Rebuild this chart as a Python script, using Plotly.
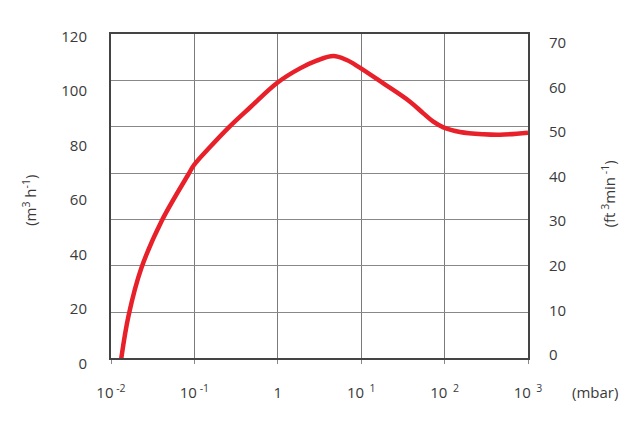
import plotly.graph_objects as go

# Pressure (mbar) and pumping speed (ft^3/min)
pressure_mbar = [0.01328, 0.0163, 0.02308, 0.04009, 0.0838, 0.0989, 0.1539, 0.2551, 0.4642,
                 0.987, 1.846, 2.924, 4.634, 6.696, 9.497,
                 18.43, 38.47, 55.59, 73.26, 96.56, 152.9, 291.4, 461.3, 1000]
speed_cfm = [0.0, 9.35, 19.44, 29.51, 39.6, 41.76, 45.65, 49.8, 54.18,
             59.54, 62.64, 64.3, 65.31, 64.44, 62.86,
             59.4, 55.44, 52.92, 51.12, 49.9, 48.9, 48.4, 48.3, 48.75]

x_tickvals = [0.01, 0.1, 1, 10, 100, 1000]
x_ticktext = ["10<sup>\u00a0-2</sup>", "10<sup>\u00a0-1</sup>", "1",
              "10<sup>\u00a0\u00a01</sup>", "10<sup>\u00a0\u00a02</sup>", "10<sup>\u00a0\u00a03</sup>"]
m3h_ticks = [0, 20, 40, 60, 80, 100, 120]
cfm_ticks = [0, 10, 20, 30, 40, 50, 60, 70]

FONT = "Open Sans"
TXT = "#3a3a3a"

fig = go.Figure()
fig.add_trace(go.Scatter(x=pressure_mbar, y=speed_cfm, mode="lines",
                         line=dict(color="#e8202a", width=4.5, shape="spline", smoothing=1.0),
                         hoverinfo="skip", showlegend=False))
# hidden helpers so the label-only axes are drawn
fig.add_trace(go.Scatter(x=[x_tickvals[0]], y=[m3h_ticks[0]], xaxis="x2", yaxis="y2",
                         mode="markers", marker=dict(opacity=0), hoverinfo="skip", showlegend=False))
fig.add_trace(go.Scatter(x=[x_tickvals[0]], y=[cfm_ticks[0]], xaxis="x2", yaxis="y3",
                         mode="markers", marker=dict(opacity=0), hoverinfo="skip", showlegend=False))

fig.update_layout(
    width=640, height=425,
    margin=dict(l=103, r=120, t=22, b=63, autoexpand=False),
    paper_bgcolor="white", plot_bgcolor="rgba(0,0,0,0)",
    font=dict(family=FONT, size=15, color=TXT),
    xaxis=dict(type="log", range=[-2, 3], tickvals=x_tickvals, ticktext=x_ticktext,
               showgrid=True, gridcolor="#7a7a7a", gridwidth=1,
               showline=True, mirror=True, linecolor="#444", linewidth=2,
               ticks="outside", ticklen=4, tickcolor="#888", tickwidth=1,
               ticklabelstandoff=16, zeroline=False, automargin=False,
               tickfont=dict(family=FONT, size=15, color=TXT), anchor="y"),
    yaxis=dict(range=[0, 70], tickvals=cfm_ticks, showticklabels=False,
               showgrid=True, gridcolor="#888", gridwidth=1,
               showline=True, mirror=True, linecolor="#444", linewidth=2,
               ticks="", zeroline=False, domain=[0.0344, 0.9874], anchor="x", automargin=False),
    xaxis2=dict(type="log", range=[-2, 3], domain=[0, 1], visible=False, anchor="y2", automargin=False),
    yaxis2=dict(range=[0, 120], tickvals=m3h_ticks, anchor="free", position=0, side="left",
                domain=[0.0191, 0.9803], showgrid=False, showline=False, zeroline=False,
                ticks="", ticklabelstandoff=24, automargin=False,
                tickfont=dict(family=FONT, size=15, color=TXT)),
    yaxis3=dict(range=[0, 70], tickvals=cfm_ticks, anchor="free", position=1, side="right",
                domain=[0.0441, 0.9626], showgrid=False, showline=False, zeroline=False,
                ticks="", ticklabelstandoff=20, automargin=False,
                tickfont=dict(family=FONT, size=15, color=TXT)),
)

fig.add_annotation(text="(mbar)", xref="paper", yref="paper", x=1.161, y=-0.0647,
                   xanchor="center", yanchor="middle", showarrow=False,
                   font=dict(family=FONT, size=15, color=TXT))
fig.add_annotation(text="(m<sup>3</sup> h<sup>-1</sup>)", xref="paper", yref="paper",
                   x=-0.197, y=0.5, xanchor="center", yanchor="middle", textangle=-90,
                   showarrow=False, font=dict(family=FONT, size=15, color=TXT))
fig.add_annotation(text="(ft<sup>\u00a03</sup>min<sup>\u00a0-1</sup>)", xref="paper", yref="paper",
                   x=1.193, y=0.518, xanchor="center", yanchor="middle", textangle=-90,
                   showarrow=False, font=dict(family=FONT, size=15, color=TXT))

fig.write_html("out.html")
